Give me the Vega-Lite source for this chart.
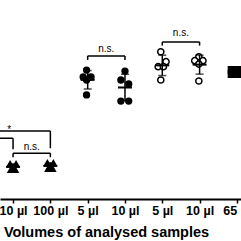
{
  "$schema": "https://vega.github.io/schema/vega-lite/v6.json",
  "width": 241,
  "height": 199,
  "autosize": {"type": "none"},
  "padding": {"left": 0, "top": 0, "right": 0, "bottom": 42},
  "config": {"view": {"stroke": null}, "font": "Liberation Sans"},
  "datasets": {
    "pts": [
      {"grp": 2, "x": 1.92, "y": 17.6, "kind": "tri"},
      {"grp": 2, "x": 2.08, "y": 17.6, "kind": "tri"},
      {"grp": 2, "x": 2.0, "y": 16.1, "kind": "tri"},
      {"grp": 2, "x": 1.94, "y": 14.6, "kind": "tri"},
      {"grp": 2, "x": 2.06, "y": 14.6, "kind": "tri"},
      {"grp": 3, "x": 2.92, "y": 18.1, "kind": "tri"},
      {"grp": 3, "x": 3.08, "y": 18.1, "kind": "tri"},
      {"grp": 3, "x": 3.0, "y": 16.6, "kind": "tri"},
      {"grp": 3, "x": 2.94, "y": 15.1, "kind": "tri"},
      {"grp": 3, "x": 3.06, "y": 15.1, "kind": "tri"},
      {"grp": 4, "x": 3.97, "y": 64.8, "kind": "dot"},
      {"grp": 4, "x": 3.88, "y": 61.3, "kind": "dot"},
      {"grp": 4, "x": 4.09, "y": 61.3, "kind": "dot"},
      {"grp": 4, "x": 3.97, "y": 59.8, "kind": "dot"},
      {"grp": 4, "x": 3.97, "y": 52.3, "kind": "dot"},
      {"grp": 5, "x": 5.0, "y": 64.3, "kind": "dot"},
      {"grp": 5, "x": 4.89, "y": 59.8, "kind": "dot"},
      {"grp": 5, "x": 5.1, "y": 57.8, "kind": "dot"},
      {"grp": 5, "x": 4.89, "y": 49.2, "kind": "dot"},
      {"grp": 5, "x": 5.1, "y": 49.2, "kind": "dot"},
      {"grp": 6, "x": 5.96, "y": 74.0, "kind": "ring"},
      {"grp": 6, "x": 6.1, "y": 69.0, "kind": "ring"},
      {"grp": 6, "x": 5.89, "y": 66.5, "kind": "ring"},
      {"grp": 6, "x": 6.03, "y": 66.5, "kind": "ring"},
      {"grp": 6, "x": 5.96, "y": 59.8, "kind": "ring"},
      {"grp": 7, "x": 6.98, "y": 71.5, "kind": "ring"},
      {"grp": 7, "x": 6.87, "y": 69.5, "kind": "ring"},
      {"grp": 7, "x": 7.09, "y": 69.5, "kind": "ring"},
      {"grp": 7, "x": 6.98, "y": 67.8, "kind": "ring"},
      {"grp": 7, "x": 6.98, "y": 59.3, "kind": "ring"},
      {"grp": 8, "x": 7.86, "y": 64.8, "kind": "sq"},
      {"grp": 8, "x": 8.06, "y": 64.8, "kind": "sq"},
      {"grp": 8, "x": 7.96, "y": 63.8, "kind": "sq"},
      {"grp": 8, "x": 7.86, "y": 62.8, "kind": "sq"},
      {"grp": 8, "x": 8.06, "y": 62.8, "kind": "sq"}
    ],
    "brackets": [
      {"x1": 1, "x2": 3, "y": 34.2, "yl": 29.6, "yr": 25.5, "lx": 1.9, "ly": 33.2, "label": "*"},
      {"x1": 1, "x2": 2, "y": 30.5, "yl": 27.0, "yr": 25.0, "lx": 1.5, "ly": 32.0, "label": ""},
      {"x1": 2, "x2": 3, "y": 23.0, "yl": 21.0, "yr": 21.0, "lx": 2.5, "ly": 24.6, "label": "n.s."},
      {"x1": 4, "x2": 5, "y": 71.9, "yl": 69.9, "yr": 69.9, "lx": 4.5, "ly": 74.0, "label": "n.s."},
      {"x1": 6, "x2": 7, "y": 78.9, "yl": 77.1, "yr": 77.1, "lx": 6.5, "ly": 81.9, "label": "n.s."}
    ]
  },
  "encoding": {
    "x": {
      "type": "quantitative",
      "scale": {"domain": [1.65, 8.11], "nice": false, "zero": false}
    },
    "y": {
      "type": "quantitative",
      "scale": {"domain": [0, 100], "nice": false, "zero": false},
      "axis": null
    }
  },
  "layer": [
    {
      "data": {"name": "pts"},
      "mark": {"type": "point", "filled": true, "opacity": 1, "stroke": "black", "strokeWidth": 1.5},
      "encoding": {
        "x": {
          "field": "x",
          "type": "quantitative",
          "axis": {
            "values": [2, 3, 4, 5, 6, 7, 8],
            "labelExpr": "['', '10 µl', '100 µl', '5 µl', '10 µl', '5 µl', '10 µl', '65 µl'][datum.value - 1]",
            "title": "Volumes of analysed samples",
            "titleFont": "Liberation Sans",
            "titleFontWeight": "bold",
            "titleFontSize": 14.5,
            "titleColor": "black",
            "titleX": 106,
            "titleY": 37,
            "titleAlign": "center",
            "titleBaseline": "alphabetic",
            "titleAnchor": null,
            "labelFont": "Liberation Sans",
            "labelFontWeight": "bold",
            "labelFontSize": 12.5,
            "labelColor": "black",
            "labelPadding": 1,
            "labelOverlap": false,
            "labelBound": false,
            "labelFlush": false,
            "domainColor": "black",
            "domainWidth": 2,
            "tickColor": "black",
            "tickWidth": 1.5,
            "tickSize": 4,
            "grid": false
          }
        },
        "y": {"field": "y", "type": "quantitative"},
        "shape": {
          "field": "kind",
          "type": "nominal",
          "scale": {"domain": ["tri", "dot", "ring", "sq"], "range": ["triangle-up", "circle", "circle", "square"]},
          "legend": null
        },
        "fill": {
          "field": "kind",
          "type": "nominal",
          "scale": {"domain": ["tri", "dot", "ring", "sq"], "range": ["black", "black", "white", "black"]},
          "legend": null
        },
        "size": {
          "field": "kind",
          "type": "nominal",
          "scale": {"domain": ["tri", "dot", "ring", "sq"], "range": [30, 42, 38, 30]},
          "legend": null
        }
      }
    },
    {
      "data": {"name": "pts"},
      "mark": {"type": "errorbar", "extent": "stdev", "orient": "vertical", "color": "black", "ticks": {"size": 8, "thickness": 1.5, "color": "black"}, "rule": {"strokeWidth": 1.5}},
      "encoding": {
        "x": {"field": "grp", "type": "quantitative"},
        "y": {"field": "y", "type": "quantitative"}
      }
    },
    {
      "data": {"name": "pts"},
      "mark": {"type": "tick", "orient": "horizontal", "size": 14, "thickness": 2, "color": "black", "opacity": 1},
      "encoding": {
        "x": {"field": "grp", "type": "quantitative"},
        "y": {"field": "y", "type": "quantitative", "aggregate": "mean"}
      }
    },
    {
      "data": {"name": "brackets"},
      "mark": {"type": "rule", "color": "black", "strokeWidth": 1.5},
      "encoding": {
        "x": {"field": "x1", "type": "quantitative"},
        "x2": {"field": "x2"},
        "y": {"field": "y", "type": "quantitative"}
      }
    },
    {
      "data": {"name": "brackets"},
      "mark": {"type": "rule", "color": "black", "strokeWidth": 1.5},
      "encoding": {
        "x": {"field": "x1", "type": "quantitative"},
        "y": {"field": "y", "type": "quantitative"},
        "y2": {"field": "yl"}
      }
    },
    {
      "data": {"name": "brackets"},
      "mark": {"type": "rule", "color": "black", "strokeWidth": 1.5},
      "encoding": {
        "x": {"field": "x2", "type": "quantitative"},
        "y": {"field": "y", "type": "quantitative"},
        "y2": {"field": "yr"}
      }
    },
    {
      "data": {"name": "brackets"},
      "mark": {"type": "text", "color": "black", "fontSize": 10, "font": "Liberation Sans", "baseline": "alphabetic", "align": "center"},
      "encoding": {
        "x": {"field": "lx", "type": "quantitative"},
        "y": {"field": "ly", "type": "quantitative"},
        "text": {"field": "label"}
      }
    }
  ]
}
